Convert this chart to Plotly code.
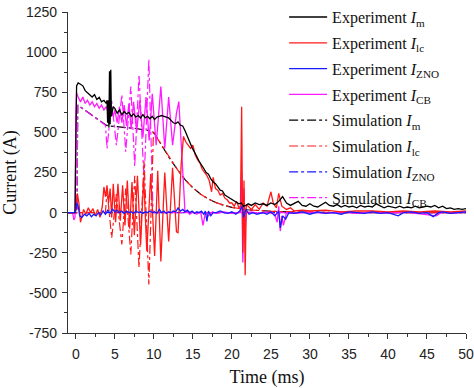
import plotly.graph_objects as go

# ---------------- data ----------------
# Experiment I_m (black solid)
exp_im_t = [-1.0, -0.1, 0.1, 0.3, 0.6, 0.9, 1.2, 1.5, 1.8, 2.1, 2.4, 2.7, 3.0, 3.3, 3.6, 3.9,
            4.0, 4.08, 4.16, 4.24, 4.32, 4.4, 4.48, 4.56, 4.8, 5.0, 5.3, 5.6, 5.9,
            6.2, 6.5, 6.8, 7.1, 7.4, 7.7, 8.0, 8.3, 8.6, 8.9, 9.2, 9.5, 9.8, 10.1, 10.4, 10.7,
            11.0, 11.3, 11.6, 11.9, 12.2, 12.5, 12.8, 13.1, 13.4, 13.7, 14.0, 14.3, 14.6, 14.9,
            15.2, 15.5, 15.8, 16.1, 16.4, 16.7, 17.0, 17.3, 17.6, 17.9, 18.2, 18.5, 18.8, 19.1,
            19.4, 19.7, 20.0, 20.3, 20.6, 20.9, 21.2, 21.5, 21.8, 22.1, 22.5, 23.0, 23.5, 24.0,
            24.5, 25.0, 25.5, 26.0, 26.5, 27.0, 27.5, 28.0, 28.5, 29.0, 29.5, 30.0, 30.5, 31.0,
            31.5, 32.0, 32.5, 33.0, 33.5, 34.0, 34.5, 35.0, 35.5, 36.0, 36.5, 37.0, 37.5, 38.0,
            38.5, 39.0, 39.5, 40.0, 40.5, 41.0, 41.5, 42.0, 42.5, 43.0, 43.5, 44.0, 44.5, 45.0,
            45.5, 46.0, 46.5, 47.0, 47.5, 48.0, 48.5, 49.0, 49.5, 50.0]
exp_im_v = [0, 0, 790, 808, 800, 790, 760, 745, 730, 720, 735, 705, 718, 690, 700, 680,
            700, 560, 700, 530, 880, 550, 890, 600, 660, 650, 620, 640, 610,
            630, 615, 625, 600, 615, 595, 605, 590, 610, 590, 600, 585, 600, 580, 595, 600,
            605, 600, 595, 590, 575, 560, 555, 565, 545, 540, 510, 470, 440, 405,
            380, 350, 320, 300, 275, 250, 240, 210, 190, 180, 160, 140, 135, 110,
            100, 90, 80, 70, 62, 55, 60, 40, 45, 55, 45, 60, 50, 55,
            45, 60, 50, 70, 100, 60, 45, 55, 70, 45, 40, 55, 40, 35,
            50, 65, 45, 40, 50, 35, 45, 35, 40, 30, 45, 35, 40, 35,
            55, 40, 30, 40, 35, 30, 40, 30, 35, 30, 40, 30, 35, 40,
            35, 45, 30, 40, 25, 30, 20, 25, 20, 25]

# Experiment I_lc (red solid)
exp_ilc_t = [-1.0, -0.2, 0.0, 0.2, 0.4, 0.6, 0.8, 1.0, 1.3, 1.6, 1.9, 2.2, 2.5, 2.8, 3.1, 3.4,
             3.6, 3.8, 4.0, 4.2, 4.4, 4.6, 4.8, 5.1, 5.4, 5.7, 6.0, 6.3, 6.6, 6.9, 7.2, 7.5,
             7.9, 8.3, 8.7, 9.1, 9.6, 10.1, 10.5, 10.9, 11.4, 11.9, 12.4, 12.9, 13.1, 13.5,
             13.8, 14.1, 14.4, 14.7, 15.0, 15.3, 15.6, 15.9, 16.2, 16.5, 16.8, 17.1, 17.4,
             17.6, 17.9, 18.2, 18.5, 18.8, 19.1, 19.4, 19.7, 20.0, 20.3, 20.6, 20.9, 21.1,
             21.25, 21.4, 21.55, 21.7, 21.85, 22.1, 22.5, 23.0, 23.5, 24.0, 24.5, 25.0, 25.3,
             25.7, 26.0, 26.4, 27.0, 27.5, 28.0, 29.0, 30.0, 32.0, 34.0, 36.0, 38.0, 40.0,
             42.0, 44.0, 46.0, 48.0, 50.0]
exp_ilc_v = [0, 0, 20, 120, 60, -60, -20, 20, -10, 30, 0, 25, -20, 20, -30, 40,
             160, 100, 170, 60, 150, -30, 180, -60, 180, -50, 170, -80, 200, -100, 190, -140,
             230, -200, 220, -240, 240, -270, 260, -305, 250, -180, 280, -120, -125, 300,
             475, 440, 420, 400, 420, 360, 330, 310, 270, 250, 230, 200, 130,
             220, 150, 140, 110, 120, 90, 80, 60, 60, 40, 70, 30, 40,
             660, -250, 200, -390, 50, 40, 20, 50, 20, 60, 40, 130, 60,
             30, 120, 40, 20, 30, 10, 15, 10, 15, 5, 10, 10, 5,
             10, 5, 10, 5, 10]

# Experiment I_ZNO (blue solid)
exp_izno_t = [-1.0, -0.2, 0.0, 0.15, 0.3, 0.5, 0.8, 1.1, 1.4, 1.7, 2.0, 2.3, 2.6, 2.9, 3.2, 3.5,
              3.8, 4.1, 4.4, 4.7, 5.0, 5.3, 5.6, 5.9, 6.2, 6.5, 6.8, 7.1, 7.4, 7.7, 8.0, 8.3,
              8.6, 8.9, 9.2, 9.5, 9.8, 10.1, 10.4, 10.7, 11.0, 11.3, 11.6, 11.9, 12.2, 12.5,
              12.8, 13.1, 13.4, 13.7, 14.0, 14.3, 14.6, 14.9, 15.2, 15.5, 15.8, 16.1, 16.4,
              16.6, 16.8, 17.0, 17.3, 17.6, 18.0, 18.5, 19.0, 19.5, 20.0, 20.5, 21.0, 21.3,
              21.5, 21.8, 22.2, 22.7, 23.2, 24.0, 24.5, 25.0, 25.5, 26.0, 26.2, 26.5, 26.9,
              27.3, 28.0, 29.0, 30.0, 31.0, 32.0, 33.0, 34.0, 35.0, 36.0, 37.0, 38.0, 39.0,
              40.0, 41.3, 42.0, 43.0, 44.0, 45.0, 45.8, 46.5, 47.0, 48.0, 49.0, 50.0]
exp_izno_v = [0, 0, 10, 60, 40, -20, -30, -10, -20, -5, -25, -10, -20, 0, -15, 10,
              -10, 15, -5, 20, 5, 15, 0, 10, -5, 10, 0, 5, -5, 10, 0, 5,
              -5, 5, 0, 10, 0, 5, -5, 20, 0, 10, -5, 5, 0, 10,
              5, 30, 10, 20, 5, 15, 0, 10, -5, 5, 0, 10, -10,
              10, -55, 10, -20, 0, 0, 10, 0, -5, 5, -10, 10, 40,
              -30, 20, -10, 0, -10, 0, -10, 5, -20, 10, -95, -20, -40,
              0, -5, 5, -10, 5, -5, 0, -10, 5, 0, -5, 5, -5,
              0, -20, 0, 5, -5, 0, -25, 0, 5, -5, 0, 5]

# Experiment I_CB (magenta solid)
exp_icb_t = [-1.0, -0.4, -0.25, -0.1, 0.0, 0.1, 0.3, 0.6, 0.9, 1.2, 1.5, 1.8, 2.1, 2.4, 2.7,
             3.0, 3.3, 3.6, 3.9, 4.2, 4.5, 4.8, 5.0, 5.3, 5.6, 5.9, 6.2, 6.5, 6.8, 7.1, 7.4,
             7.8, 8.2, 8.6, 9.0, 9.4, 9.8, 10.3, 10.9, 11.4, 11.9, 12.4, 12.9, 13.2, 13.6,
             13.8, 14.0, 14.3, 14.6, 15.0, 15.5, 16.0, 16.3, 16.6, 17.0, 17.5, 18.0, 19.0,
             20.0, 21.0, 21.1, 21.25, 21.4, 21.55, 21.7, 21.85, 22.5, 23.5, 24.5, 25.5, 25.8,
             26.0, 26.2, 26.4, 26.6, 27.0, 28.0, 30.0, 32.0, 34.0, 36.0, 38.0, 40.0, 42.0,
             44.0, 46.2, 47.0, 48.0, 50.0]
exp_icb_v = [0, 0, -45, -30, 600, 745, 720, 690, 720, 680, 700, 670, 690, 660, 680,
             650, 670, 640, 660, 620, 640, 600, 640, 560, 660, 560, 670, 540, 680, 520, 690,
             500, 700, 470, 720, 450, 740, 420, 786, 400, 720, 420, 620, 692, 350,
             120, 0, 10, -10, 5, -10, 5, -80, 0, -20, 5, -5, 5,
             -5, 0, 5, 250, -310, 150, -100, 0, 5, -5, 5, -10, -60,
             40, -115, -20, -80, 0, -5, 5, -5, 5, -5, 5, -5, 5,
             -5, -20, 5, -5, 5]

# Simulation I_m (black dash-dot)
sim_im_t = [-1.0, 0.15, 0.25, 3.9, 4.3, 6.0, 8.0, 9.5, 10.0, 11.0, 12.0, 13.0, 14.0, 15.0,
            16.0, 17.0, 18.0, 19.0, 20.0, 22.0, 25.0, 30.0, 35.0, 50.0]
sim_im_v = [0, 0, 670, 545, 540, 532, 522, 510, 500, 420, 340, 270, 205, 155,
            115, 85, 62, 45, 33, 18, 8, 2, 0, 0]

# Simulation I_lc (red dash-dot)
sim_ilc_t = [-1.0, 3.8, 4.0, 4.6, 5.2, 5.9, 6.4, 7.05, 7.55, 8.1, 8.75, 9.36, 9.95, 11.0,
             12.0, 13.0, 14.0, 15.0, 16.0, 17.0, 18.0, 19.0, 20.0, 22.0, 25.0, 30.0, 35.0, 50.0]
sim_ilc_v = [0, 0, 140, -157, 115, -199, 150, -261, 230, -342, 320, -448, 500, 420,
             340, 270, 205, 155, 115, 85, 62, 45, 33, 18, 8, 2, 0, 0]

# Simulation I_ZNO (blue dash-dot)
sim_izno_t = [-1.0, 50.0]
sim_izno_v = [0, 0]

# Simulation I_CB (magenta dash-dot)
sim_icb_t = [-1.0, 0.15, 0.25, 3.8, 4.0, 4.6, 5.2, 5.9, 6.4, 7.05, 7.55, 8.1, 8.75, 9.36,
             9.9, 50.0]
sim_icb_v = [0, 0, 670, 545, 400, 697, 420, 734, 380, 785, 290, 860, 195, 955,
             0, 0]

y_ticks = [-750, -500, -250, 0, 250, 500, 750, 1000, 1250]
y_labels = ["-750", "-500", "-250", "0", "250", "500", "750", "1000", "1250"]
x_ticks = [0, 5, 10, 15, 20, 25, 30, 35, 40, 45, 50]
x_labels = ["0", "5", "10", "15", "20", "25", "30", "35", "40", "45", "50"]

# ---------------- figure ----------------
BLACK, RED, BLUE, MAG = "#000000", "#ff1a1a", "#1a1aff", "#ff1aff"
SERIF = "Liberation Serif, Times New Roman, serif"
SANS = "Liberation Sans, Arial, sans-serif"

fig = go.Figure()

def add(t, v, name, color, dash, rank, width=1.3):
    fig.add_trace(go.Scatter(x=t, y=v, mode="lines", name=name, legendrank=rank,
                             legendgroup="g%d" % rank,
                             line=dict(color=color, width=width, dash=dash)))

# drawing order (bottom -> top), legend order via legendrank
add(sim_im_t, sim_im_v, "Simulation <i>I</i><sub>m</sub>", BLACK, "dashdot", 5, 1.2)
add(sim_izno_t, sim_izno_v, "Simulation <i>I</i><sub>ZNO</sub>", BLUE, "dashdot", 7, 1.2)
add(sim_icb_t, sim_icb_v, "Simulation <i>I</i><sub>CB</sub>", MAG, "dashdot", 8, 1.2)
add(sim_ilc_t, sim_ilc_v, "Simulation <i>I</i><sub>lc</sub>", RED, "dashdot", 6, 1.2)
add(exp_icb_t, exp_icb_v, "Experiment <i>I</i><sub>CB</sub>", MAG, "solid", 4)
add(exp_ilc_t, exp_ilc_v, "Experiment <i>I</i><sub>lc</sub>", RED, "solid", 2)
add(exp_im_t, exp_im_v, "Experiment <i>I</i><sub>m</sub>", BLACK, "solid", 1)
add(exp_izno_t, exp_izno_v, "Experiment <i>I</i><sub>ZNO</sub>", BLUE, "solid", 3)

axis_common = dict(showline=True, linecolor="#333333", linewidth=1.3, ticks="outside",
                   ticklen=5, tickwidth=1.2, tickcolor="#333333", showgrid=False,
                   zeroline=False, mirror=False, ticklabeloverflow="allow",
                   tickfont=dict(family=SANS, size=14, color="#222222"))

fig.update_xaxes(range=[-1, 50], tickmode="array", tickvals=x_ticks, ticktext=x_labels,
                 minor=dict(dtick=2.5, tick0=0, ticks="outside", ticklen=3,
                            tickcolor="#333333", showgrid=False),
                 ticklabelstandoff=3,
                 title=dict(text="Time (ms)", font=dict(family=SERIF, size=18, color="#111"),
                            standoff=11),
                 **axis_common)
fig.update_yaxes(range=[-750, 1250], tickmode="array", tickvals=y_ticks, ticktext=y_labels,
                 minor=dict(dtick=125, tick0=0, ticks="outside", ticklen=3,
                            tickcolor="#333333", showgrid=False),
                 ticklabelstandoff=2,
                 title=dict(text="Current (A)", font=dict(family=SERIF, size=18, color="#111"),
                            standoff=6),
                 **axis_common)

fig.update_layout(
    width=474, height=388,
    margin=dict(l=68, r=8, t=12, b=55, autoexpand=False),
    paper_bgcolor="white", plot_bgcolor="white",
    showlegend=True,
    legend=dict(x=0.543, y=1.037, xanchor="left", yanchor="top",
                bgcolor="rgba(0,0,0,0)", borderwidth=0,
                font=dict(family=SERIF, size=16, color="#111"),
                itemwidth=38, tracegroupgap=2, maxheight=400),
)

fig.write_html("out.html", config={"displayModeBar": False},
               post_script="document.body.style.margin='0px';")
